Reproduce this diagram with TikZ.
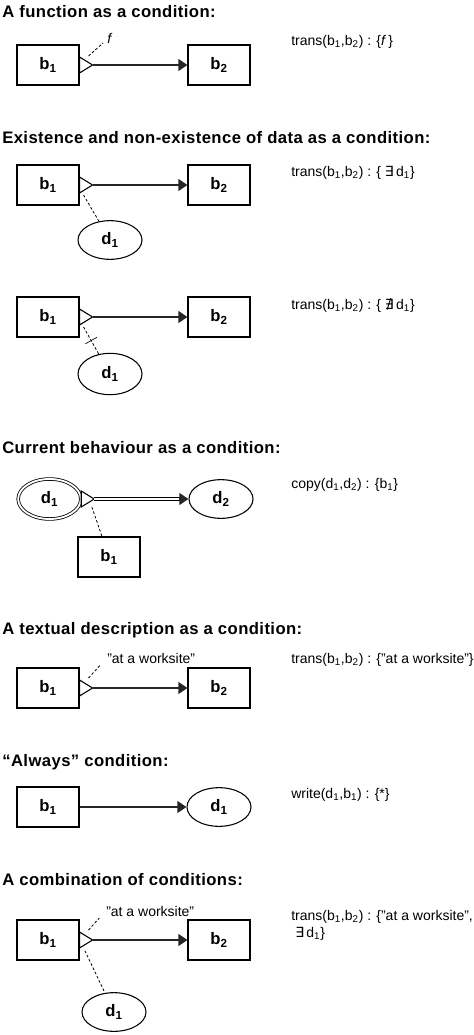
\documentclass[tikz,border=0pt]{standalone}
\usepackage{fontspec}
\setmainfont{Liberation Sans}
\newfontfamily\symfont{DejaVu Sans}
\newfontfamily\headfont[Ligatures=TeX, LetterSpace=2.5]{Liberation Sans Bold}
\usetikzlibrary{arrows.meta,shapes.geometric}

% hollow condition triangle on the east side of a node
\newcommand{\condmark}[2]{%
  \draw[line width=0.8pt, fill=white] ([yshift=6pt]#1.east) coordinate (#2-up)
    -- ++(13,8) coordinate (#2) -- ([yshift=-6pt]#1.east) coordinate (#2-lo) -- cycle;}

\begin{document}
\begin{tikzpicture}[x=0.75pt, y=-0.75pt,
    box/.style={draw, line width=0.8pt, minimum width=46.5pt, minimum height=30pt, inner sep=0pt, font=\fontsize{12.5}{14}\bfseries},
    datum/.style={draw, ellipse, line width=0.8pt, minimum width=48pt, minimum height=29pt, inner sep=0pt, font=\fontsize{12.5}{14}\bfseries},
    heading/.style={anchor=base west, inner sep=0pt, font=\fontsize{12.5}{15}\headfont},
    formula/.style={anchor=base west, inner sep=0pt, font=\fontsize{10.5}{12.5}\selectfont},
    label/.style={anchor=base west, inner sep=0pt, font=\fontsize{10.5}{12.5}\selectfont},
    flow/.style={-{Triangle[length=6.75pt,width=8.75pt]}, line width=1.4pt, draw=black!85},
    link/.style={line width=0.6pt, dash pattern=on 2pt off 1.5pt},
    tick/.style={midway, sloped, draw, solid, line width=0.5pt, minimum height=10pt, minimum width=0pt, inner sep=0pt}]
    \useasboundingbox (0,0) rectangle (474,1035);

    % a function
    \node[heading] (h1) at (2,17.5) {A function as a condition:};
    \node[box] (fb1) at (48,65) {b\textsubscript{1}};
    \node[box] (fb2) at (219,65) {b\textsubscript{2}};
    \condmark{fb1}{ft}
    \draw[flow] (ft) -- (fb2);
    \node[label, font=\fontsize{10.5}{12.5}\itshape] (flab) at (107,43) {f};
    \draw[link] ([shift={(6.75pt,0.75pt)}]ft-up) -- ([xshift=-3pt]flab.base west);
    \node[formula] (r1) at (291,45) {trans(b\textsubscript{1},b\textsubscript{2}) : \{\textit{f}\,\}};

    % existence
    \node[heading] (h2) at (2,143) {Existence and non-existence of data as a condition:};
    \node[box] (eb1) at (48,185) {b\textsubscript{1}};
    \node[box] (eb2) at (219,185) {b\textsubscript{2}};
    \node[datum] (ed1) at (110,240) {d\textsubscript{1}};
    \condmark{eb1}{et}
    \draw[flow] (et) -- (eb2);
    \draw[link] ([shift={(3pt,-1.5pt)}]et-lo) -- (ed1);
    \node[formula] (r2) at (291,176.5) {trans(b\textsubscript{1},b\textsubscript{2}) : \{ {\symfont ∃}\,d\textsubscript{1}\}};

    % non-existence
    \node[box] (nb1) at (48,317) {b\textsubscript{1}};
    \node[box] (nb2) at (219,317) {b\textsubscript{2}};
    \node[datum, minimum height=31pt] (nd1) at (110,374) {d\textsubscript{1}};
    \condmark{nb1}{nt}
    \draw[flow] (nt) -- (nb2);
    \draw[link] ([shift={(3pt,-1.5pt)}]nt-lo) -- (nd1) node[tick] {};
    \node[formula] (r3) at (291,309) {trans(b\textsubscript{1},b\textsubscript{2}) : \{ {\symfont ∄}\,d\textsubscript{1}\}};

    % current behaviour
    \node[heading] (h4) at (2,453) {Current behaviour as a condition:};
    \node[datum, double, line width=0.6pt, double distance=1.4pt, minimum width=47pt, minimum height=30pt] (cd1) at (49.5,499) {d\textsubscript{1}};
    \node[datum] (cd2) at (221,499) {d\textsubscript{2}};
    \node[box] (cb1) at (109,557) {b\textsubscript{1}};
    \condmark{cd1}{ct}
    \draw[double, line width=0.6pt, double distance=2pt, shorten >=6pt] (ct) -- (cd2);
    \draw[flow] ([xshift=-7pt]cd2.west) -- (cd2.west);
    \draw[link] ([xshift=8pt]ct-lo) -- (cb1);
    \node[formula] (r4) at (291,488) {copy(d\textsubscript{1},d\textsubscript{2}) : \{b\textsubscript{1}\}};

    % textual description
    \node[heading] (h5) at (2,634) {A textual description as a condition:};
    \node[box] (tb1) at (48,688) {b\textsubscript{1}};
    \node[box] (tb2) at (219,688) {b\textsubscript{2}};
    \condmark{tb1}{tt}
    \draw[flow] (tt) -- (tb2);
    \node[label] (tlab) at (107,663) {"at a worksite"};
    \draw[link] ([shift={(6.75pt,1.5pt)}]tt-up) -- ([shift={(-5pt,-1.5pt)}]tlab.base west);
    \node[formula] (r5) at (291,663) {trans(b\textsubscript{1},b\textsubscript{2}) : \{"at a worksite"\}};

    % always
    \node[heading] (h6) at (2,766) {“Always” condition:};
    \node[box] (ab1) at (48,807) {b\textsubscript{1}};
    \node[datum] (ad1) at (219,807) {d\textsubscript{1}};
    \draw[flow] (ab1) -- (ad1);
    \node[formula] (r6) at (291,798) {write(d\textsubscript{1},b\textsubscript{1}) : \{*\}};

    % combination
    \node[heading] (h7) at (2,885) {A combination of conditions:};
    \node[box] (mb1) at (48,940) {b\textsubscript{1}};
    \node[box] (mb2) at (219,940) {b\textsubscript{2}};
    \node[datum] (md1) at (114,1012) {d\textsubscript{1}};
    \condmark{mb1}{mt}
    \draw[flow] (mt) -- (mb2);
    \node[label] (mlab) at (106,916) {"at a worksite"};
    \draw[link] ([shift={(6.75pt,1.5pt)}]mt-up) -- ([shift={(-5pt,-1.5pt)}]mlab.base west);
    \draw[link] ([shift={(4pt,-2pt)}]mt-lo) -- (md1);
    \node[formula] (r7) at (291,920) {trans(b\textsubscript{1},b\textsubscript{2}) : \{"at a worksite",};
    \node[formula] (r7b) at (295,937) {{\symfont ∃}\,d\textsubscript{1}\}};
\end{tikzpicture}
\end{document}
